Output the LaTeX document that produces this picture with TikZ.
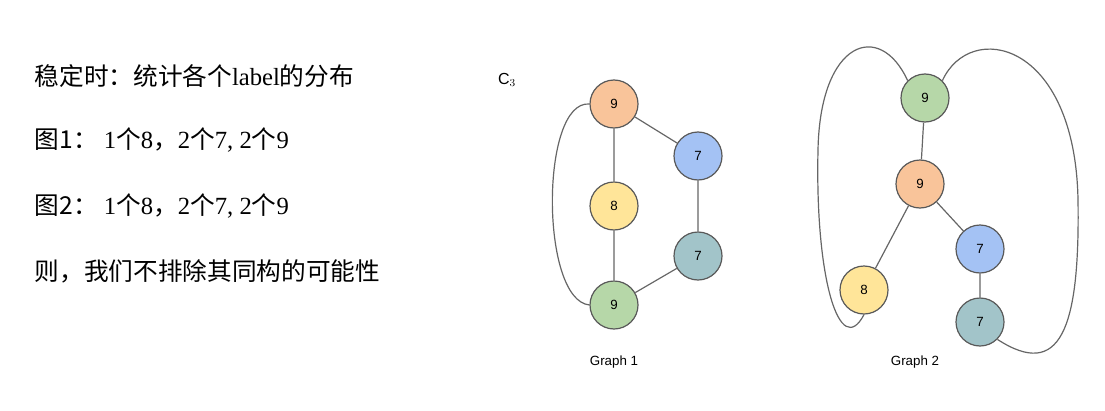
\documentclass[tikz,border=0pt]{standalone}
\usepackage{fontspec}
\setmainfont{Liberation Serif}
\newfontfamily\cjk{Noto Sans CJK SC}
\newfontfamily\sans{Liberation Sans}
\begin{document}
\begin{tikzpicture}[x=0.75pt,y=-0.75pt,
  v/.style={circle,draw=black!65,line width=0.9pt,minimum size=36pt,inner sep=0pt,font=\sans\fontsize{10}{12}\selectfont},
  e/.style={draw=black!60,line width=0.9pt},
  t/.style={anchor=west,font=\fontsize{18.5}{22}\selectfont},
  lbl/.style={font=\sans\fontsize{10}{12}\selectfont}]
\useasboundingbox (0,0) rectangle (1105,410);
\definecolor{co}{HTML}{F9C49A}\definecolor{cb}{HTML}{A4C2F4}
\definecolor{cy}{HTML}{FFE599}\definecolor{ct}{HTML}{A2C4C9}
\definecolor{cg}{HTML}{B6D7A8}
\node[t] (l1) at (30,76) {{\cjk 稳定时：统计各个}label{\cjk 的分布}};
\node[t] (l2) at (30,140) {{\cjk 图1：} 1{\cjk 个}8{\cjk ，}2{\cjk 个}7, 2{\cjk 个}9};
\node[t] (l3) at (30,206) {{\cjk 图2：} 1{\cjk 个}8{\cjk ，}2{\cjk 个}7, 2{\cjk 个}9};
\node[t] (l4) at (30,271) {{\cjk 则，我们不排除其同构的可能性}};
\node[lbl,font=\sans\fontsize{12}{14}\selectfont] (c3) at (507,80) {C$_3$};
% Graph 1
\node[v,fill=co] (a) at (614,104) {9};
\node[v,fill=cb] (b) at (698,156) {7};
\node[v,fill=cy] (c) at (614,206) {8};
\node[v,fill=ct] (d) at (698,256) {7};
\node[v,fill=cg] (f) at (614,305) {9};
\draw[e] (a)--(b) (a)--(c) (c)--(f) (b)--(d) (d)--(f);
\draw[e] (a.west) .. controls (540,100) and (540,300) .. (f.west);
\node[lbl] (g1) at (614,362) {Graph 1};
% Graph 2
\node[v,fill=cg] (p) at (925,98) {9};
\node[v,fill=co] (q) at (920,184) {9};
\node[v,fill=cb] (r) at (980,249) {7};
\node[v,fill=cy] (s) at (864,290) {8};
\node[v,fill=ct] (u) at (980,322) {7};
\draw[e] (p)--(q) (q)--(r) (q)--(s) (r)--(u);
\draw[e] (p.north west) .. controls (880,20) and (820,40) .. (818,150)
  .. controls (815,280) and (840,360) .. (s.south);
\draw[e] (p.north east) .. controls (970,20) and (1075,40) .. (1078,200)
  .. controls (1080,330) and (1060,380) .. (u.south east);
\node[lbl] (g2) at (915,362) {Graph 2};
\end{tikzpicture}
\end{document}
